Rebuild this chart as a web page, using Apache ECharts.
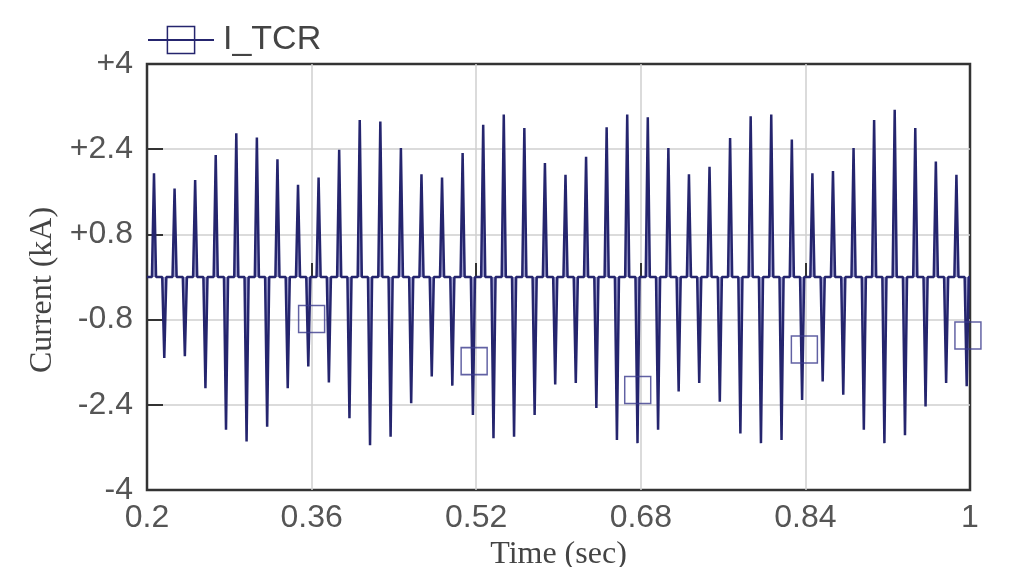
<!DOCTYPE html>
<html>
<head>
<meta charset="utf-8">
<script src="https://cdn.jsdelivr.net/npm/echarts@6/dist/echarts.min.js"></script>
<style>
  html, body { margin: 0; padding: 0; background: #fff; }
  #chart { width: 1017px; height: 567px; }
</style>
</head>
<body>
<div id="chart"></div>
<script>
// TCR current pulses, one positive and one negative pulse per 20 ms cycle
const firstPulse = 0.2068   // time of first positive peak (s)
const halfCycle = 0.01      // positive and negative pulses alternate
const pulseHalfWidth = 0.002

const posPeaks = [
  1.95, 1.66, 1.82, 2.29, 2.70, 2.62, 2.21, 1.73, 1.87, 2.39,
  2.95, 2.92, 2.42, 1.93, 1.87, 2.33, 2.86, 3.05, 2.80, 2.14,
  1.92, 2.26, 2.81, 3.05, 3.00, 2.42, 1.93, 2.07, 2.61, 3.02,
  3.05, 2.58, 1.95, 1.99, 2.42, 2.95, 3.14, 2.80, 2.17, 1.92
]
const negPeaks = [
  -1.52, -1.49, -2.09, -2.87, -3.09, -2.81, -2.09, -1.68, -1.98, -2.65,
  -3.16, -3.00, -2.37, -1.87, -2.04, -2.59, -3.03, -3.00, -2.59, -2.02,
  -1.99, -2.46, -3.06, -3.12, -2.87, -2.15, -1.99, -2.34, -2.94, -3.12,
  -3.06, -2.31, -1.96, -2.21, -2.87, -3.12, -2.97, -2.43, -1.99, -2.05
]

// square markers drawn along the trace
const markerTimes = [0.36, 0.518, 0.677, 0.839, 0.998]
const markerValues = [-0.79, -1.58, -2.12, -1.36, -1.10]

const xTickLabels = ['0.2', '0.36', '0.52', '0.68', '0.84', '1']
const yTickLabels = ['-4', '-2.4', '-0.8', '+0.8', '+2.4', '+4']

const navy = '#25256e'

// build the trace: each pulse rises from zero to its peak and back
const trace = [[0.2, 0]]
for (let k = 0; k < posPeaks.length; k++) {
  const tp = firstPulse + 2 * k * halfCycle
  const tn = tp + halfCycle
  trace.push([tp - pulseHalfWidth, 0], [tp, posPeaks[k]], [tp + pulseHalfWidth, 0])
  trace.push([tn - pulseHalfWidth, 0], [tn, negPeaks[k]], [Math.min(tn + pulseHalfWidth, 1), 0])
}
trace.push([1, 0])

const chart = echarts.init(document.getElementById('chart'))
chart.setOption({
  animation: false,
  backgroundColor: '#fff',
  grid: {
    left: 147, right: 47, top: 64, bottom: 77, outerBoundsMode: 'none',
    show: true, borderColor: '#333', borderWidth: 2.5
  },
  legend: {
    left: 147, top: 23, padding: 0,
    itemWidth: 66, itemHeight: 34,
    data: ['I_TCR'],
    itemStyle: { color: 'transparent', borderColor: navy, borderWidth: 1.5 },
    textStyle: { fontFamily: 'Liberation Sans', fontSize: 34, color: '#444', padding: [8, 0, 0, 4] }
  },
  xAxis: {
    type: 'value', min: 0.2, max: 1, interval: 0.16,
    name: 'Time (sec)', nameLocation: 'middle', nameGap: 43,
    nameTextStyle: { fontFamily: 'Liberation Serif', fontSize: 32, color: '#444' },
    axisLine: { show: false },
    axisTick: { show: true, inside: true, length: 14, lineStyle: { color: '#333', width: 2 } },
    axisLabel: {
      margin: 12, fontFamily: 'Liberation Sans', fontSize: 32, color: '#555',
      formatter: (v, i) => xTickLabels[i]
    },
    splitLine: { show: true, showMinLine: false, showMaxLine: false, lineStyle: { color: '#cfcfcf', width: 1.5 } }
  },
  yAxis: {
    type: 'value', min: -4, max: 4, interval: 1.6,
    name: 'Current (kA)', nameLocation: 'middle', nameGap: 76,
    nameTextStyle: { fontFamily: 'Liberation Serif', fontSize: 32, color: '#444', padding: [0, 26, 0, 0] },
    axisLine: { show: false },
    axisTick: { show: true, inside: true, length: 16, lineStyle: { color: '#333', width: 2 } },
    axisLabel: {
      margin: 14, fontFamily: 'Liberation Sans', fontSize: 32, color: '#555',
      formatter: (v, i) => yTickLabels[i]
    },
    splitLine: { show: true, showMinLine: false, showMaxLine: false, lineStyle: { color: '#cfcfcf', width: 1.5 } }
  },
  series: [
    {
      name: 'I_TCR', type: 'line', data: trace,
      symbol: 'rect', showSymbol: false, sampling: 'none',
      lineStyle: { color: navy, width: 2.5 },
      itemStyle: { color: navy },
      areaStyle: { color: '#8c8cc6', opacity: 0.8 }
    },
    {
      name: 'I_TCR', type: 'scatter',
      data: markerTimes.map((t, i) => [t, markerValues[i]]),
      symbol: 'rect', symbolSize: [26, 27],
      itemStyle: { color: 'transparent', borderColor: '#3a3a8c', borderWidth: 1.5 },
      z: 3
    }
  ]
})
window.addEventListener('resize', () => chart.resize())
</script>
</body>
</html>
